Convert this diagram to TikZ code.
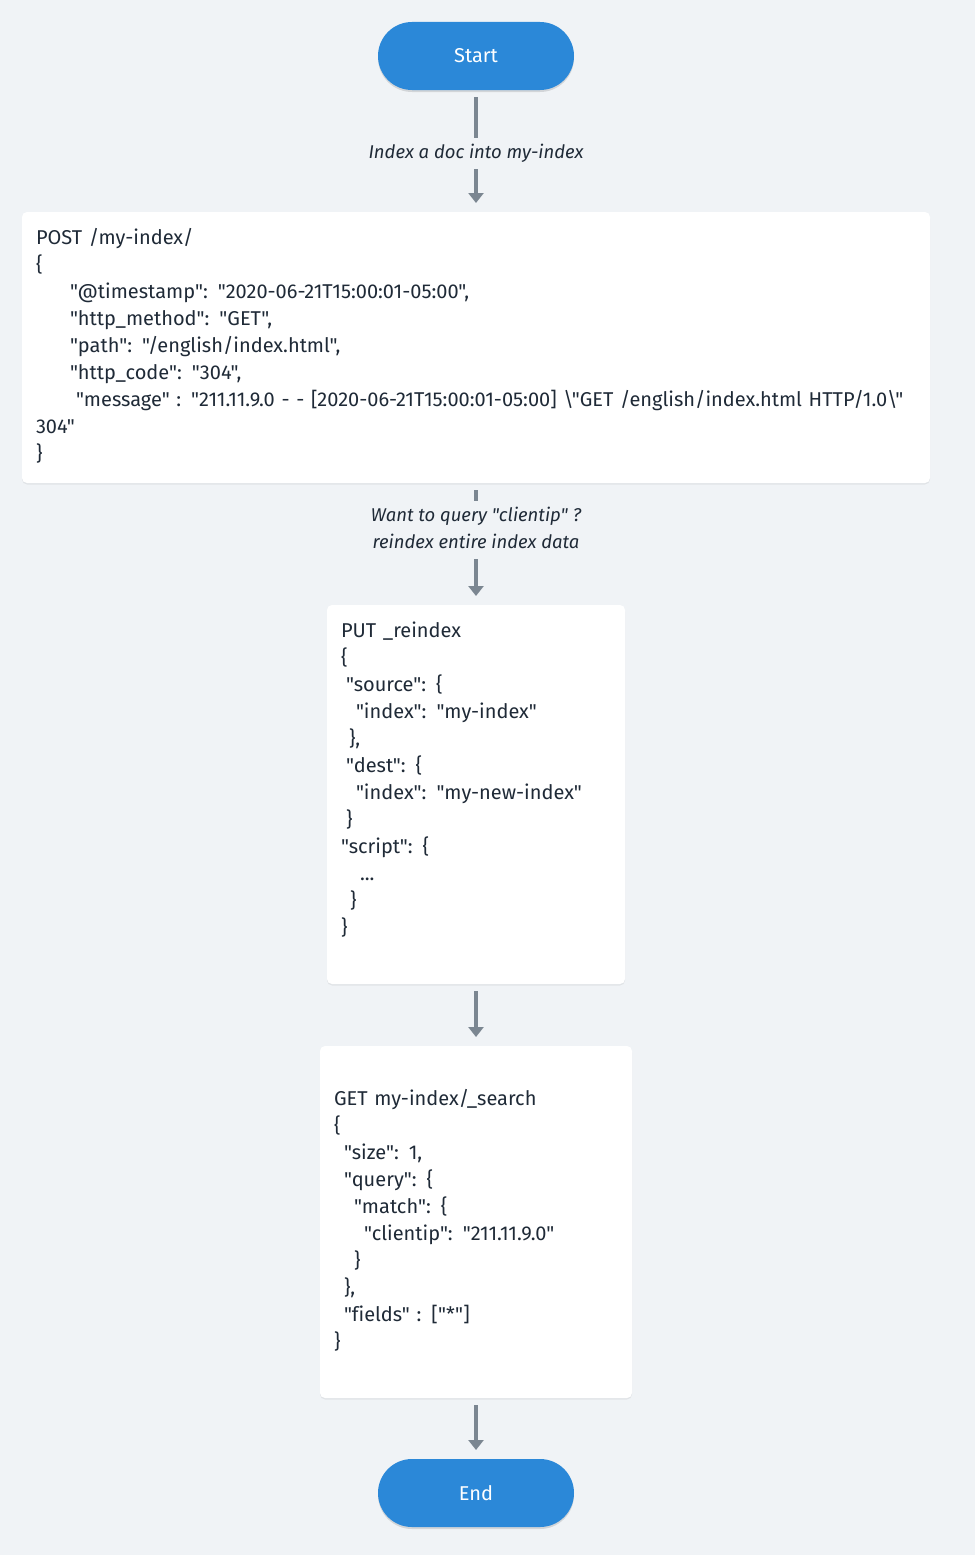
\documentclass[tikz,border=0pt]{standalone}
\usepackage{fontspec}
\setmainfont{Fira Sans}[Ligatures={TeXOff,NoCommon}]
\usepackage{tikz}
\usetikzlibrary{calc,arrows.meta,shadows}

\definecolor{bgcol}{HTML}{F0F3F6}
\definecolor{pillblue}{HTML}{2B88D8}
\definecolor{flowgray}{HTML}{7B8691}
\definecolor{inkcol}{HTML}{1F2A37}

\tikzset{
    pill/.style={fill=pillblue, text=white, rounded corners=34pt,
        minimum width=196pt, minimum height=68pt,
        font=\fontsize{20}{24}\selectfont,
        drop shadow={shadow xshift=0pt, shadow yshift=-2pt, opacity=0.12, fill=black}},
    codebox/.style={fill=white, rounded corners=5pt, inner xsep=14pt, inner ysep=14pt,
        align=left, text=inkcol, font=\fontsize{20}{27}\selectfont,
        drop shadow={shadow xshift=0pt, shadow yshift=-1.5pt, opacity=0.06, fill=black}},
    flow/.style={draw=flowgray, line width=4pt, -{Triangle[width=15pt,length=10pt]},
        shorten <=7pt, shorten >=9pt},
    flowlab/.style={fill=bgcol, inner sep=2pt, text=inkcol, yshift=-2pt,
        font=\fontsize{18.5}{27}\selectfont\itshape}
}

\begin{document}
\begin{tikzpicture}[x=1pt, y=1pt, inner sep=0pt, outer sep=0pt]
    \useasboundingbox[fill=bgcol] (0,0) rectangle (975,-1555);

    % start
    \node[pill] (start) at (476,-56) {Start};

    % index a doc
    \node[codebox, anchor=north, text width=880pt] (post_doc)
    at ($(start.south) + (0pt, -122pt)$)
    {
    \begin{tabular}{@{}l@{}}
    POST /my-index/ \\
    \{ \\
    \hspace*{34pt}"@timestamp": "2020-06-21T15:00:01-05:00", \\
    \hspace*{34pt}"http\_method": "GET", \\
    \hspace*{34pt}"path": "/english/index.html", \\
    \hspace*{34pt}"http\_code": "304", \\
    \hspace*{40pt}"message" : "211.11.9.0 - - [2020-06-21T15:00:01-05:00] \textbackslash"GET /english/index.html HTTP/1.0\textbackslash" \\
    304" \\
    \}
    \end{tabular}
    };

    % reindex
    \node[codebox, anchor=north, text width=270pt] (put_reindex)
    at ($(post_doc.south) + (0pt, -122pt)$)
    {
    \begin{tabular}{@{}l@{}}
    PUT \_reindex \\
    \{ \\
    \hspace*{5pt}"source": \{ \\
    \hspace*{15pt}"index": "my-index" \\
    \hspace*{8pt}\}, \\
    \hspace*{5pt}"dest": \{ \\
    \hspace*{15pt}"index": "my-new-index" \\
    \hspace*{5pt}\} \\
    "script": \{ \\
    \hspace*{19pt}... \\
    \hspace*{9pt}\} \\
    \} \\
    \mbox{}
    \end{tabular}
    };

    % search
    \node[codebox, anchor=north, text width=284pt] (get_search)
    at ($(put_reindex.south) + (0pt, -62pt)$)
    {
    \begin{tabular}{@{}l@{}}
    \mbox{} \\
    GET my-index/\_search \\
    \{ \\
    \hspace*{10pt}"size": 1, \\
    \hspace*{10pt}"query": \{ \\
    \hspace*{20pt}"match": \{ \\
    \hspace*{30pt}"clientip": "211.11.9.0" \\
    \hspace*{20pt}\} \\
    \hspace*{10pt}\}, \\
    \hspace*{10pt}"fields" : ["*"] \\
    \} \\
    \mbox{}
    \end{tabular}
    };

    % end
    \node[pill, anchor=north] (stop) at ($(get_search.south) + (0pt, -61pt)$) {End};

    % connectors
    \draw[flow] (start) -- node[flowlab]
        {\begin{tabular}{@{}c@{}} Index a doc into my-index \end{tabular}} (post_doc);
    \draw[flow] (post_doc) -- node[flowlab, pos=0.365]
        {\begin{tabular}{@{}c@{}} Want to query "clientip" ? \\ reindex entire index data \end{tabular}} (put_reindex);
    \draw[flow] (put_reindex) -- (get_search);
    \draw[flow] (get_search) -- (stop);

\end{tikzpicture}
\end{document}
